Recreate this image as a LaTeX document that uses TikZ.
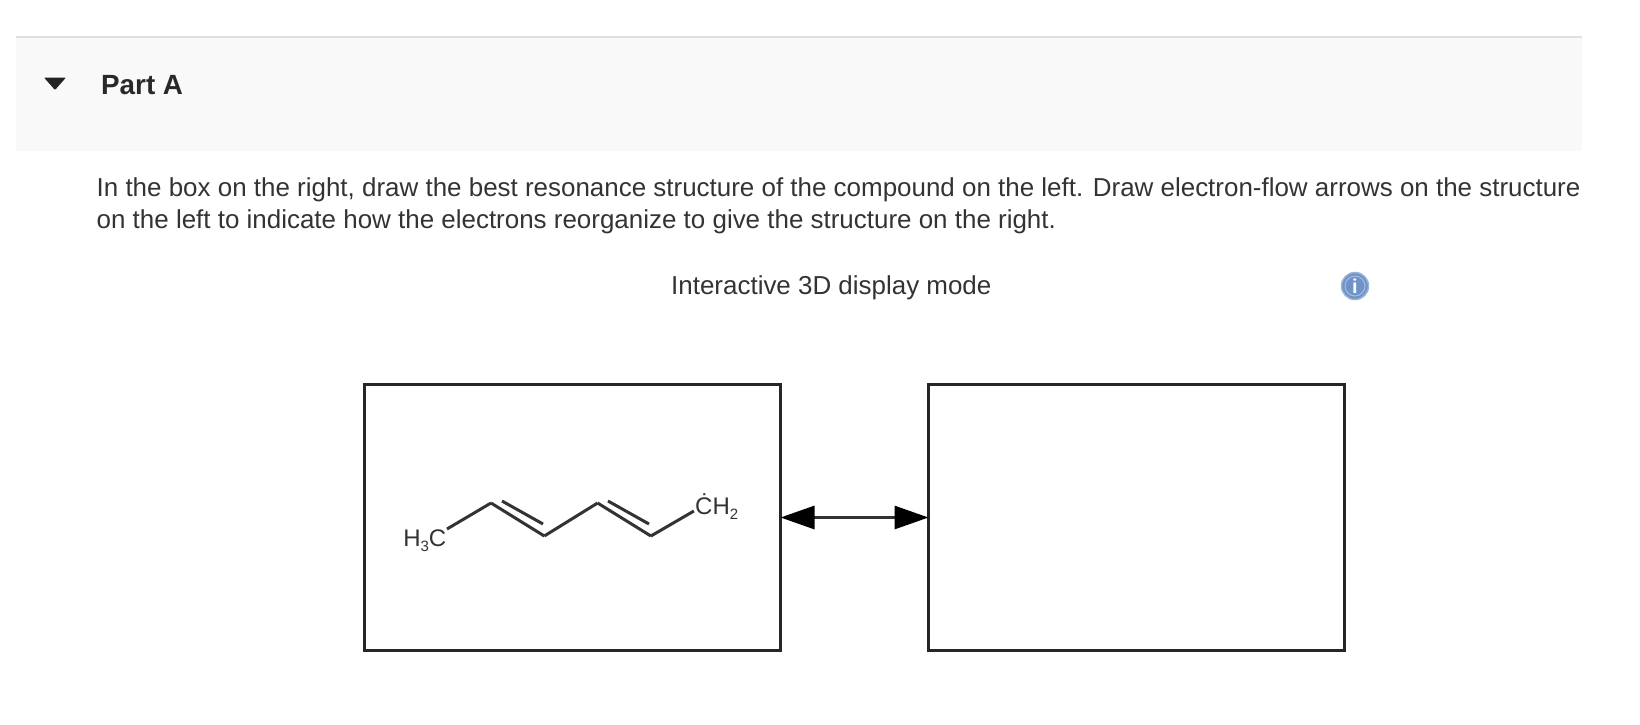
\documentclass[tikz,border=0pt]{standalone}
\usepackage{fontspec}
\usepackage{xcolor}
\setmainfont{Liberation Sans}
\usetikzlibrary{arrows.meta,positioning}
\definecolor{inktext}{HTML}{333333}
\definecolor{panelgray}{HTML}{F9F9F9}
\definecolor{rulegray}{HTML}{E0E0E0}
\definecolor{infoblue}{HTML}{6F93C6}
\newcommand{\lowsub}[1]{\raisebox{-5pt}{\fontsize{15}{15}\selectfont #1}}

\begin{document}
\begin{tikzpicture}[x=1pt,y=-1pt,node distance=53.3pt,
    main text/.style={anchor=base west,inner sep=0,text=inktext,font=\fontsize{25.95}{30}\selectfont},
    atom/.style={inner sep=0,minimum size=0},
    label atom/.style={inner sep=0,text=black!80,font=\fontsize{24}{26}\selectfont},
    answer box/.style={draw=black!85,line width=3.6pt,minimum width=416pt,minimum height=266pt,inner sep=0,outer sep=0},
    bond/.style={draw=black!80,line width=3pt,line join=round}]

            \useasboundingbox (0,0) rectangle (1640,724);

            \node[fill=panelgray,minimum width=1566pt,minimum height=113pt,inner sep=0] (panel) at (799,94) {};
            \draw[rulegray,line width=2pt] (panel.north west) -- (panel.north east);

            \node[inner sep=0] (part) at (101,94) [anchor=base west,text=inktext!80!black,font=\fontsize{27.8}{32}\selectfont\bfseries] {Part A};
            \coordinate (t1) at (44,77.5);
            \coordinate (t2) at (66,77.5);
            \coordinate (t3) at (55,90);
            \fill[inktext!70!black,rounded corners=0.8pt] (t1) -- (t2) -- (t3) -- cycle;

            \node[main text] (line1) at (96.5,196) {In the box on the right, draw the best resonance structure of the compound on the left. Draw electron-flow arrows on the structure};
            \node[main text] (line2) at (96.5,228) {on the left to indicate how the electrons reorganize to give the structure on the right.};
            \node[main text] (mode) at (671,294) {Interactive 3D display mode};

            \node[circle,fill=infoblue,draw=infoblue!70!white,line width=1.5pt,minimum size=27pt,inner sep=0] (info) at (1355,286) {};
            \node[circle,draw=infoblue!60!white,line width=1pt,minimum size=20pt,inner sep=0,text=white,font=\fontsize{20}{20}\selectfont\bfseries] (infoi) at (info.center) {i};

            \node[answer box] (leftbox) at (572.5,517.5) {};
            \node[answer box] (rightbox) at (1136.5,517.5) {};
            \draw[{Triangle[length=34pt,width=23pt,color=black]}-{Triangle[length=34pt,width=23pt,color=black]},draw=black!80,line width=3pt] (leftbox.east) -- (rightbox.west);

            \node[atom] (1) at (447,529) {};
            \node[atom] (2) [right of = 1, xshift = -9.3, yshift = 26] {};
            \node[atom] (3) [right of = 2, yshift = -33] {};
            \node[atom] (4) [right of = 3, yshift = 33] {};
            \node[atom] (5) [right of = 4, yshift = -33] {};
            \node[atom] (6) [right of = 5, xshift = -10.3, yshift = 25] {};

            \node[atom] (3b) at (502,501) {};
            \node[atom] (4b) at (543,524) {};
            \node[atom] (5b) at (608,501) {};
            \node[atom] (6b) at (649,524) {};

            \node[label atom,anchor=base east] (7) at (446.5,546) {H\lowsub{3}C};
            \node[label atom,anchor=base west] (8) at (695,514) {\.CH\lowsub{2}};

            \path[bond]
                (1.center) edge[bond] (2.center)
                (2.center) edge[bond] (3.center)
                (3.center) edge[bond] (4.center)
                (4.center) edge[bond] (5.center)
                (5.center) edge[bond] (6.center)
                (3b.center) edge[bond] (4b.center)
                (5b.center) edge[bond] (6b.center)
            ;
        \end{tikzpicture}
\end{document}
